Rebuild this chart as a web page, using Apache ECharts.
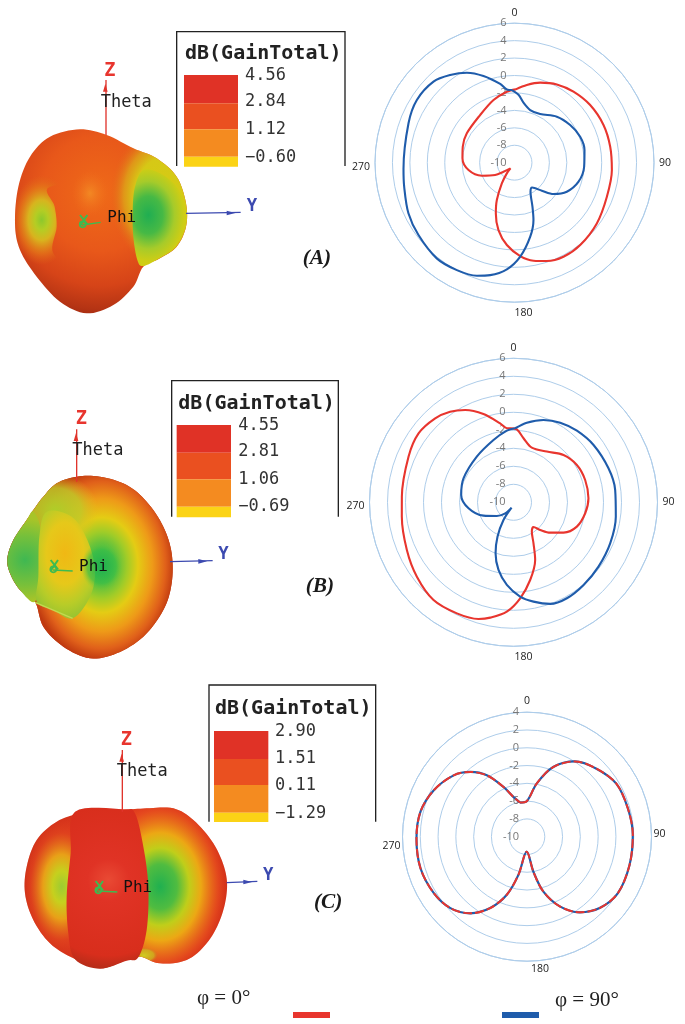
<!DOCTYPE html>
<html><head><meta charset="utf-8">
<style>html,body{margin:0;padding:0;background:#fff}#c{width:685px;height:1024px}</style>
<script src="https://cdn.jsdelivr.net/npm/echarts@6/dist/echarts.min.js"></script>
</head><body><div id="c"></div>
<script>
// each curve: [gain dB, angle deg]
const aPhi90=[[-1.66,358],[-2.2,3.4],[-3.04,8.5],[-3.7,16.6],[-3.69,27.8],[-2.83,42.6],[-2.29,55.9],[-1.9,68.4],[-1.84,79.7],[-2.0,93.3],[-2.34,106.5],[-3.14,119],[-4.26,128.8],[-5.51,135.7],[-6.51,144.7],[-6.2,151.1],[-4.55,157.8],[-3.07,161.7],[-1.32,168],[0.8,176.5],[2.27,184.1],[3.19,192.2],[3.66,198.4],[3.98,208.2],[4.14,219.1],[3.79,233],[3.48,244.5],[2.95,257.7],[2.75,266.9],[2.97,290.4],[3.31,302.7],[3.14,315],[2.47,323.7],[1.68,332.1],[0.56,340.3],[-0.82,349.7],[-1.55,354]];
const aPhi0=[[-1.59,1],[-0.98,9],[-0.36,17.8],[0.21,28.4],[0.59,39.7],[0.91,52.7],[1.09,67],[1.13,80.5],[1.2,94.3],[1.29,110.2],[1.73,126.4],[2.08,141.4],[2.16,152.5],[1.87,161.8],[1.45,169],[0.73,176.5],[-0.52,185.3],[-2.06,193.4],[-3.8,200.2],[-5.26,205.3],[-7.22,211.5],[-8.49,215.7],[-9.2,215.2],[-8.37,230.7],[-7.37,237.5],[-5.97,248.3],[-4.66,260.9],[-4.01,274.8],[-3.79,287.2],[-3.58,301.6],[-3.26,324.2],[-2.42,341.5],[-1.81,353.8]];
const bPhi0=[[-1.78,358],[-1.89,2.6],[-2.8,8.9],[-3.6,18.5],[-3.26,33.3],[-2.35,46.6],[-1.83,59.5],[-1.66,72.7],[-1.66,87],[-1.94,98.7],[-2.46,111],[-3.5,121.2],[-4.71,129.6],[-5.73,136],[-6.47,141],[-6.16,148],[-4.93,154],[-3.16,159.4],[-1.17,167.9],[0.69,176],[2.17,183.5],[3.07,191.4],[3.53,196.7],[3.85,207],[4.03,219.3],[3.55,232.4],[2.98,245.9],[2.51,262.7],[2.42,272.9],[2.72,293.5],[3.04,306],[2.76,317],[2.29,325],[1.58,332.4],[0.37,341.2],[-1.1,350.4],[-1.74,354.9]];
const bPhi90=[[-1.77,1.3],[-1.03,9.5],[-0.26,20],[0.26,30.4],[0.63,41.5],[0.94,54.4],[1.21,70.3],[1.38,83],[1.48,98],[1.67,113],[1.84,127.1],[2.04,139.7],[2.2,150.9],[2.0,160.2],[1.26,168.6],[0.5,176],[-0.79,184.6],[-2.3,192.5],[-4.0,199.4],[-5.79,205],[-7.74,209.5],[-9.37,200],[-8.47,217],[-7.6,230.6],[-6.35,246],[-4.96,262.4],[-4.13,278],[-3.84,295.6],[-3.49,321.2],[-2.73,342.2],[-2.0,354.7]];
const cPhi90=[[-6.08,348.5],[-6.01,359.5],[-3.93,10.3],[-1.63,20.6],[0.03,32.4],[0.93,45.6],[1.68,59.3],[1.78,74.4],[1.9,89],[1.96,105.4],[2.03,121.8],[1.45,134.5],[0.37,145.1],[-1.34,154.8],[-3.58,163.5],[-6.02,169.7],[-8.32,181],[-5.6,192.7],[-3.09,199.2],[-0.97,207.3],[0.72,216.5],[1.78,227],[2.25,238.8],[2.49,253.5],[2.43,269.1],[2.3,283.2],[1.71,296.5],[0.75,309.9],[-0.32,318.8],[-1.75,326.8],[-3.81,334.7],[-5.27,341.1]];
const cPhi0=cPhi90.slice();
const legendA=['4.56','2.84','1.12','-0.60'];
const legendB=['4.55','2.81','1.06','-0.69'];
const legendC=['2.90','1.51','0.11','-1.29'];
const swatchColors=['#e03226','#ea5020','#f48b20','#fbd316'];
const RED='#e8352e',BLUE='#1f5cab',GRID='#aecdea';

const polars=[
 {c:[514.5,162.7],r:139.5,max:6,margin:5,s180:[0,0,0,18],s270:[8,0,0,0],s90:[0,0,0,0],s0:[0,0,0,0]},
 {c:[513.5,502.3],r:144,max:6,margin:5,s180:[0,0,0,20],s270:[8,0,0,0],s90:[0,0,0,0],s0:[0,0,0,0]},
 {c:[527,836.7],r:124.5,max:4,margin:2,s180:[0,0,0,26],s270:[18,0,0,0],s90:[0,0,6,0],s0:[0,0,4,0]}
];
const curves=[[aPhi0,aPhi90,0],[bPhi0,bPhi90,0],[cPhi0,cPhi90,1]];
const close=a=>a.concat([a[0]]);

const polar=polars.map(p=>({center:p.c,radius:p.r}));
const axisFont={color:'#222',fontFamily:'Open Sans',fontSize:10.5};
const angleAxis=polars.map((p,i)=>({polarIndex:i,type:'value',min:0,max:360,interval:90,startAngle:90,clockwise:true,
  axisLine:{lineStyle:{color:GRID,width:1}},axisTick:{show:false},splitLine:{show:false},
  axisLabel:{margin:p.margin,...axisFont,
    formatter:v=>'{s'+v+'|'+v+'}',
    rich:{s0:{padding:p.s0,...axisFont},s90:{padding:p.s90,...axisFont},s180:{padding:p.s180,...axisFont},s270:{padding:p.s270,...axisFont}}}}));
const radiusAxis=polars.map((p,i)=>({polarIndex:i,type:'value',min:-10,max:p.max,interval:2,
  axisLine:{show:false},axisTick:{show:false},
  splitLine:{lineStyle:{color:GRID,width:1}},
  axisLabel:{color:'#777',fontFamily:'Open Sans',fontSize:11,margin:8}}));
const series=[];
curves.forEach((cv,i)=>{
  const common={type:'line',coordinateSystem:'polar',polarIndex:i,showSymbol:false,symbol:'none',smooth:0.32,silent:true,animation:false};
  if(cv[2]){
    series.push({...common,name:'φ = 90°',data:close(cv[1]),lineStyle:{color:BLUE,width:2.2}});
    series.push({...common,name:'φ = 0°',data:close(cv[0]),lineStyle:{color:RED,width:2,type:[9,3]}});
  }else{
    series.push({...common,name:'φ = 0°',data:close(cv[0]),lineStyle:{color:RED,width:2.1}});
    series.push({...common,name:'φ = 90°',data:close(cv[1]),lineStyle:{color:BLUE,width:2.1}});
  }
});

// ---- 3D pattern decoration helpers, coordinates in 3x crop space ----
const MONO='"DejaVu Sans Mono"';
function txt(t,x,y,size,fill,weight,family,style){return {type:'text',x,y,silent:true,style:{text:t,fontSize:size,fontFamily:family||MONO,fontWeight:weight||'normal',fontStyle:style||'normal',fill:fill||'#222',align:'left',verticalAlign:'middle'}};}
function ln(x1,y1,x2,y2,c,w){return {type:'line',silent:true,shape:{x1,y1,x2,y2},style:{stroke:c,lineWidth:w||3}};}
function rect(x,y,w,h,c){return {type:'rect',silent:true,shape:{x,y,width:w,height:h},style:{fill:c}};}
function cr(pts){ // rounded closed outline through the points
  const n=pts.length,out=[];
  for(let i=0;i<n;i++){
    const p0=pts[(i-1+n)%n],p1=pts[i],p2=pts[(i+1)%n],p3=pts[(i+2)%n];
    for(let k=0;k<8;k++){const t=k/8,t2=t*t,t3=t2*t;
      out.push([0,1].map(j=>0.5*(2*p1[j]+(p2[j]-p0[j])*t+(2*p0[j]-5*p1[j]+4*p2[j]-p3[j])*t2+(3*p1[j]-p0[j]-3*p2[j]+p3[j])*t3)));}
  }
  return out;
}
function poly(pts,fill){return {type:'polygon',silent:true,shape:{points:pts},style:{fill}};}
function stopsOf(s){return s.map(a=>({offset:a[0],color:a[1]}));}
function rad(x,y,r,stops){return {type:'radial',x,y,r,global:true,colorStops:stopsOf(stops)};}
// elliptical shaded patch, confined to the region pts
function patch(pts,cx,cy,rx,ry,stops){
  return {type:'polygon',silent:true,x:cx,y:cy,scaleX:rx,scaleY:ry,
    shape:{points:pts.map(p=>[(p[0]-cx)/rx,(p[1]-cy)/ry])},
    style:{fill:{type:'radial',x:0,y:0,r:1,global:true,colorStops:stopsOf(stops)}}};
}
function tri(x,y,dir,c){const p=dir==='up'?[[x-7,y+10],[x+7,y+10],[x,y-14]]:[[x-12,y-7],[x-12,y+7],[x+14,y]];return poly(p,c);}

function panel(ox,oy,o){
  const ch=[];
  ch.push(...o.blob);
  ch.push(ln(o.zx,o.z0,o.zx,o.z1,'#e0342c',4));
  ch.push(tri(o.zx-2,o.z0+25,'up','#e0342c'));
  ch.push(txt('Z',o.zl[0],o.zl[1],56,'#e8352e','bold'));
  ch.push(txt('Theta',o.th[0],o.th[1],51,'#222'));
  ch.push(ln(o.y[0],o.y[1],o.y[2],o.y[3],'#3c4ab0',4));
  ch.push(tri(o.y[4],o.y[3]+2,'right','#3c4ab0'));
  ch.push(txt('Y',o.yl[0],o.yl[1],52,'#3c4ab0','bold'));
  const g=o.org;
  ch.push(ln(g[0],g[1]-22,g[0]+22,g[1]+6,'#3dbb50',6),ln(g[0]+22,g[1]-22,g[0],g[1]+10,'#3dbb50',6),ln(g[0]+6,g[1]+8,g[2],g[3],'#3dbb50',4));
  ch.push({type:'circle',silent:true,shape:{cx:g[0]+8,cy:g[1]+6,r:9},style:{fill:'none',stroke:'#3dbb50',lineWidth:5}});
  ch.push(txt('Phi',o.phi[0],o.phi[1],48,'#111'));
  const b=o.box;
  ch.push({type:'polyline',silent:true,shape:{points:[[b[0],b[3]],[b[0],b[1]],[b[2],b[1]],[b[2],b[3]]]},style:{stroke:'#222',lineWidth:4,fill:'none'}});
  ch.push(txt('dB(GainTotal)',o.title[0],o.title[1],60,'#222','bold'));
  const s=o.sw;
  for(let i=0;i<4;i++)ch.push(rect(s[0],s[i+1],s[6]-s[0],s[i+2]-s[i+1],swatchColors[i]));
  o.vals.forEach((v,i)=>ch.push(txt(v.replace('-','−'),o.lx,o.ly[i],51,'#333')));
  ch.push(txt(o.tag,o.tg[0],o.tg[1],64,'#1a1a1a','bold','"Liberation Serif"','italic'));
  return {type:'group',x:ox,y:oy,scaleX:1/3,scaleY:1/3,silent:true,children:ch};
}

// Panel A
const outA=cr([[240,298],[320,315],[400,355],[470,385],[530,440],[558,520],[558,590],[530,650],[480,685],[430,710],[400,770],[340,825],[260,850],[180,815],[110,740],[60,660],[45,580],[55,470],[90,380],[150,320]]);
const fillA=rad(300,490,385,[[0,'#ef6a18'],[0.45,'#e8581a'],[0.72,'#d64418'],[0.9,'#b53414'],[1,'#9c2810']]);
const blobA=[
 poly(outA,fillA),
 patch(outA,125,570,90,135,[[0,'#8cc82c'],[0.22,'#b4cd24'],[0.45,'#d8b41e'],[0.75,'rgba(228,120,24,.7)'],[1,'rgba(225,100,25,0)']]),
 poly(cr([[150,470],[164,530],[170,590],[160,670],[240,720],[330,620],[330,470]]),fillA),
 patch(outA,270,490,55,70,[[0,'rgba(244,150,40,.7)'],[1,'rgba(240,110,30,0)']]),
 patch(outA,495,500,165,215,[[0,'#d4cc14'],[0.55,'#d6c816'],[0.75,'rgba(222,160,24,.85)'],[1,'rgba(228,100,25,0)']]),
 patch(cr([[430,420],[480,430],[530,470],[556,530],[556,590],[528,650],[480,684],[430,708],[412,690],[400,620],[398,540],[405,470]]),445,555,135,175,
   [[0,'#20ae52'],[0.32,'#46b945'],[0.58,'#a6cb2a'],[0.8,'#cfcd14'],[1,'#d4cc14']])
];
// Panel B
const outB=cr([[230,320],[300,320],[380,345],[440,395],[490,470],[515,550],[515,640],[490,720],[430,800],[350,850],[270,865],[190,830],[130,770],[105,695],[60,660],[30,610],[22,565],[40,510],[80,450],[100,420],[130,380],[170,340]]);
const blobB=[
 poly(outB,'#bc3610'),
 patch(outB,305,585,218,285,[[0,'#20b050'],[0.15,'#3cbc48'],[0.35,'#a0cc28'],[0.5,'#e4cc14'],[0.7,'#ee9a18'],[0.88,'#e0601a'],[1,'#c03a10']]),
 patch(outB,165,420,130,110,[[0,'rgba(175,205,40,1)'],[0.6,'rgba(190,205,40,.8)'],[1,'rgba(225,190,30,0)']]),
 poly(cr([[100,425],[122,480],[120,600],[105,695],[60,660],[30,610],[22,565],[40,510],[80,450]]),
   rad(75,570,125,[[0,'#3fb852'],[0.6,'#78c03a'],[1,'#a8c428']])),
 patch(cr([[140,425],[215,440],[262,510],[285,600],[270,680],[218,745],[160,720],[110,695],[115,620],[118,500]]),195,550,125,205,[[0,'#f0b814'],[0.45,'#e6c81a'],[0.75,'#b8cc28'],[1,'#92c232']]),
 ln(105,697,218,745,'#c4d850',4),
 patch(outB,305,590,62,72,[[0,'#20b050'],[0.7,'rgba(60,190,70,.7)'],[1,'rgba(120,200,50,0)']])
];
// Panel C
const outC=cr([[240,400],[300,395],[370,390],[440,385],[520,385],[580,420],[640,490],[675,570],[680,640],[660,720],[620,790],[560,840],[480,850],[420,830],[380,840],[300,865],[220,835],[150,790],[100,720],[75,640],[80,560],[110,480],[170,425]]);
const fillC=rad(380,620,350,[[0,'#e8452a'],[0.6,'#e03a20'],[0.85,'#d03018'],[1,'#a82c14']]);
const blobC=[
 poly(outC,fillC),
 patch(outC,185,620,125,215,[[0,'#9ccb32'],[0.22,'#c6d01e'],[0.45,'#e8a018'],[0.75,'rgba(225,70,30,.7)'],[1,'rgba(220,55,30,0)']]),
 patch(outC,480,620,205,270,[[0,'#20b050'],[0.25,'#50bc40'],[0.43,'#c0ce1a'],[0.6,'#eca814'],[0.85,'rgba(232,80,30,.75)'],[1,'rgba(232,60,30,0)']]),
 patch(outC,432,826,42,24,[[0,'#d0cc20'],[0.7,'rgba(200,190,30,.7)'],[1,'rgba(200,120,30,0)']]),
 poly(cr([[225,395],[370,388],[405,400],[430,500],[445,620],[440,750],[415,832],[380,842],[300,866],[225,838],[205,760],[200,650],[212,520]]),
   rad(325,600,315,[[0,'#e94a34'],[0.2,'#e03325'],[0.72,'#d82e1c'],[1,'#8c2a14']]))
];

const graphic={elements:[
 panel(0,30,{blob:blobA,zx:318,z0:150,z1:315,zl:[313,122],th:[302,217],y:[558,550,722,547,692],yl:[740,528],org:[240,577,302,577],phi:[322,565],
  box:[530,5,1035,408],title:[555,70],sw:[552,135,220,298,380,410,714],vals:legendA,lx:735,ly:[137,216,299,382],tag:'(A)',tg:[908,685]}),
 panel(0,370,{blob:blobB,zx:230,z0:178,z1:335,zl:[227,147],th:[217,242],y:[510,575,638,572,607],yl:[655,553],org:[152,592,218,603],phi:[237,590],
  box:[515,32,1015,440],title:[535,100],sw:[530,165,248,328,410,442,693],vals:legendB,lx:715,ly:[166,246,329,411],tag:'(B)',tg:[917,650]}),
 panel(0,680,{blob:blobC,zx:367,z0:210,z1:395,zl:[362,180],th:[350,275],y:[680,608,772,604,742],yl:[789,587],org:[287,625,352,636],phi:[370,623],
  box:[627,15,1127,425],title:[645,85],sw:[642,153,237,315,398,426,805],vals:legendC,lx:825,ly:[155,235,318,400],tag:'(C)',tg:[942,668]}),
 {type:'text',x:197,y:998,silent:true,style:{text:'φ = 0°',fontSize:21,fontFamily:'"Liberation Serif"',fill:'#222',verticalAlign:'middle'}},
 {type:'text',x:555,y:1000,silent:true,style:{text:'φ = 90°',fontSize:21,fontFamily:'"Liberation Serif"',fill:'#222',verticalAlign:'middle'}},
 {type:'rect',silent:true,shape:{x:293,y:1012,width:37,height:6},style:{fill:RED}},
 {type:'rect',silent:true,shape:{x:502,y:1012,width:37,height:6},style:{fill:BLUE}}
]};

const chart=echarts.init(document.getElementById('c'),null,{renderer:'canvas'});
chart.setOption({backgroundColor:'#fff',animation:false,polar,angleAxis,radiusAxis,series,graphic});
</script></body></html>
